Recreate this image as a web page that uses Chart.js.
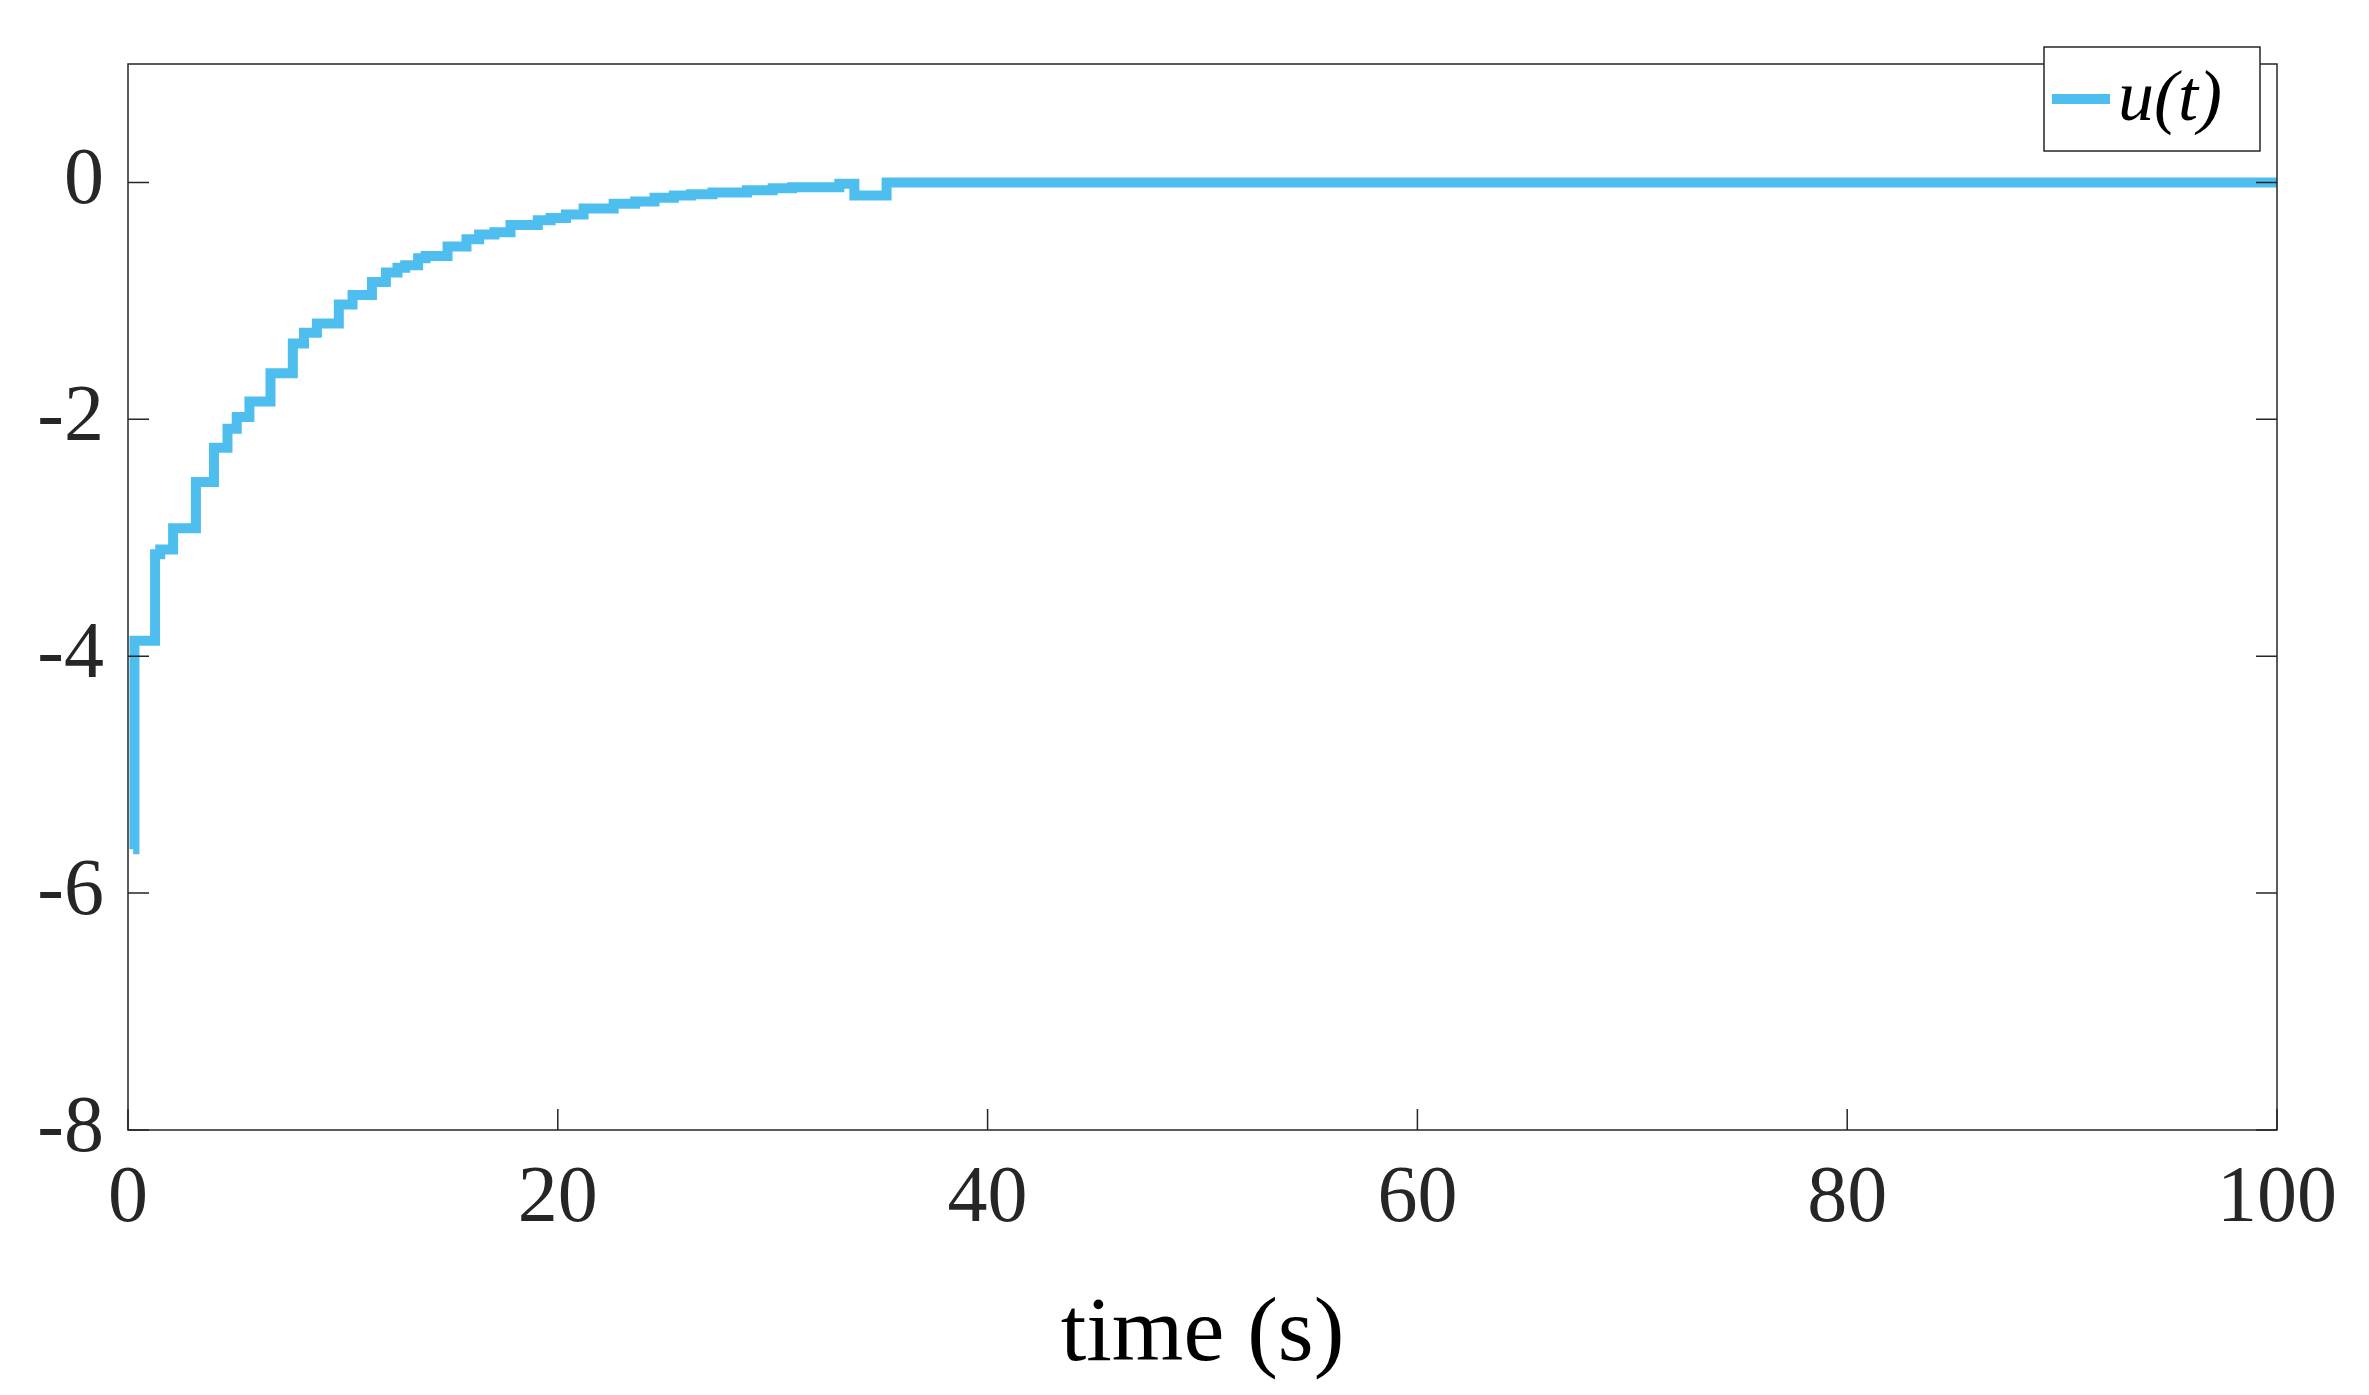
<!DOCTYPE html>
<html>
<head>
<meta charset="utf-8">
<script src="https://cdn.jsdelivr.net/npm/chart.js@4"></script>
<style>
  html, body { margin: 0; padding: 0; background: #fff; }
  #wrap { width: 2369px; height: 1395px; }
</style>
</head>
<body>
<div id="wrap"><canvas id="chU"></canvas></div>
<script>
// step times (s) and the held value of u(t) from each time on
var times = [0.24, 0.3, 1.26, 1.5, 2.1, 3.16, 4.0, 4.63, 5.06, 5.65, 6.63, 7.67, 8.19, 8.79, 9.81,
    10.45, 11.35, 12.0, 12.54, 12.9, 13.5, 13.85, 14.87, 15.75, 16.34, 17.05, 17.8, 19.07, 19.67,
    20.38, 21.2, 22.6, 23.6, 24.5, 25.4, 26.2, 27.2, 28.8, 30.0, 30.9, 33.1, 33.8, 35.3, 100];
var uValues = [-5.63, -3.87, -3.14, -3.10, -2.92, -2.53, -2.24, -2.08, -1.98, -1.85, -1.61, -1.36, -1.27, -1.19, -1.03,
    -0.95, -0.84, -0.76, -0.72, -0.70, -0.64, -0.62, -0.54, -0.48, -0.44, -0.42, -0.36, -0.32, -0.30,
    -0.27, -0.22, -0.18, -0.16, -0.13, -0.11, -0.10, -0.085, -0.065, -0.05, -0.04, -0.01, -0.11, 0, 0];
var xTicks = [0, 20, 40, 60, 80, 100];
var yTicks = [-8, -6, -4, -2, 0];

var lineColor = '#4DBEEE';
var serif = '"Liberation Serif", "DejaVu Serif", serif';

var points = times.map(function (t, i) { return { x: t, y: uValues[i] }; });

// box, inward ticks, and legend
var framePlugin = {
    id: 'frame',
    afterDatasetsDraw: function (chart) {
        var ctx = chart.ctx, a = chart.chartArea;
        var xs = chart.scales.x, ys = chart.scales.y;
        var len = 21;
        ctx.save();
        ctx.strokeStyle = '#262626';
        ctx.lineWidth = 1.5;
        ctx.strokeRect(a.left, a.top, a.right - a.left, a.bottom - a.top);
        ctx.beginPath();
        xTicks.forEach(function (v) {
            var px = xs.getPixelForValue(v);
            ctx.moveTo(px, a.bottom); ctx.lineTo(px, a.bottom - len);
        });
        yTicks.forEach(function (v) {
            var py = ys.getPixelForValue(v);
            ctx.moveTo(a.left, py); ctx.lineTo(a.left + len, py);
            ctx.moveTo(a.right, py); ctx.lineTo(a.right - len, py);
        });
        ctx.stroke();

        // legend
        var bx = 2044, by = 47, bw = 216, bh = 104;
        ctx.fillStyle = '#fff';
        ctx.fillRect(bx, by, bw, bh);
        ctx.strokeRect(bx, by, bw, bh);
        ctx.strokeStyle = lineColor;
        ctx.lineWidth = 10;
        ctx.beginPath();
        ctx.moveTo(bx + 8, by + bh / 2);
        ctx.lineTo(bx + 66, by + bh / 2);
        ctx.stroke();
        ctx.fillStyle = '#000';
        ctx.font = 'italic 72px ' + serif;
        ctx.textBaseline = 'middle';
        ctx.fillText('u(t)', bx + 74, by + bh / 2 + 2);
        ctx.restore();
    }
};

new Chart(document.getElementById('chU').getContext('2d'), {
    type: 'line',
    data: {
        datasets: [{
            label: 'u(t)',
            data: points,
            stepped: 'before',
            borderColor: lineColor,
            borderWidth: 10,
            pointRadius: 0,
            fill: false
        }]
    },
    options: {
        responsive: true,
        maintainAspectRatio: false,
        animation: false,
        layout: { padding: { top: 6, right: 92, left: 0, bottom: 0 } },
        plugins: { legend: { display: false }, tooltip: { enabled: false } },
        scales: {
            x: {
                type: 'linear',
                min: 0, max: 100,
                afterBuildTicks: function (s) { s.ticks = xTicks.map(function (v) { return { value: v }; }); },
                afterFit: function (s) { s.height = 265; },
                grid: { display: false },
                border: { display: false },
                ticks: { color: '#262626', font: { family: serif, size: 80 }, padding: 14, maxRotation: 0 },
                title: { display: true, text: 'time (s)', color: '#000', font: { family: serif, size: 92 }, padding: { top: 0 } }
            },
            y: {
                min: -8, max: 1,
                afterBuildTicks: function (s) { s.ticks = yTicks.map(function (v) { return { value: v }; }); },
                afterFit: function (s) { s.width = 128; },
                grid: { display: false },
                border: { display: false },
                ticks: { color: '#262626', font: { family: serif, size: 80 }, padding: 16 }
            }
        }
    },
    plugins: [framePlugin]
});
</script>
</body>
</html>
